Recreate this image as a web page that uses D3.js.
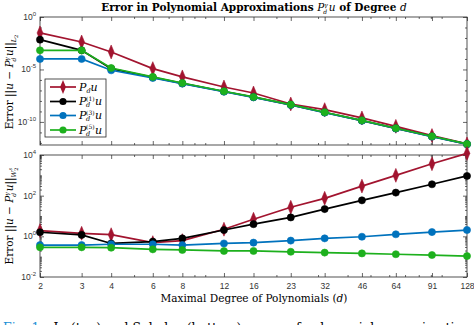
<!DOCTYPE html>
<html><head><meta charset="utf-8">
<script src="https://cdn.jsdelivr.net/npm/d3@7"></script>
<style>body{margin:0;background:#fff;overflow:hidden}svg{display:block}</style>
</head><body>
<svg id="c" width="474" height="325"></svg>
<script>
const degrees = [2,3,4,6,8,12,16,23,32,46,64,91,128];
// log10 of L2 errors (top panel)
const topP0 = [-1.52,-2.38,-3.33,-4.92,-5.71,-6.67,-7.24,-8.29,-8.83,-9.62,-10.42,-11.3,-12.1];
const topP1 = [-2.16,-3.18,-4.92,-5.75,-6.33,-7.1,-7.64,-8.37,-9.1,-9.87,-10.62,-11.39,-12.12];
const topP3 = [-4.0,-4.0,-5.08,-5.81,-6.35,-7.12,-7.66,-8.38,-9.11,-9.88,-10.63,-11.4,-12.12];
const topP5 = [-3.18,-3.18,-4.86,-5.71,-6.29,-7.08,-7.62,-8.35,-9.08,-9.85,-10.6,-11.37,-12.1];
// log10 of Sobolev errors (bottom panel)
const botP0 = [0.28,0.15,0.08,-0.31,-0.21,0.35,0.84,1.43,1.87,2.47,3.0,3.57,4.08];
const botP1 = [0.2,0.07,-0.35,-0.26,-0.1,0.31,0.6,0.93,1.34,1.77,2.15,2.56,2.97];
const botP3 = [-0.43,-0.43,-0.39,-0.39,-0.43,-0.35,-0.31,-0.21,-0.1,-0.02,0.1,0.21,0.31];
const botP5 = [-0.54,-0.54,-0.56,-0.64,-0.67,-0.72,-0.72,-0.76,-0.8,-0.84,-0.88,-0.92,-0.97];
const topTicks = [0,-5,-10];
const botTicks = [4,2,0,-2];

const colors = {p0:"#A2142F", p1:"#000000", p3:"#0072BD", p5:"#1DB01D"};
const svg = d3.select("#c");
const L = 40, R = 467;
const x = d3.scaleLog().domain([2,128]).range([L,R]);
const yT = d3.scaleLog().domain([Math.pow(10,-12.2),1]).range([145,17]);
const yB = d3.scaleLog().domain([1e-2,1e4]).range([277,155]);
const axisCol = "#262626";
const tickFont = "Liberation Sans, Arial, sans-serif";
const serif = "DejaVu Serif, Liberation Serif, serif";

function panel(y, yTicksExp, minorY, showXLabels){
  const [y0,y1] = y.range();
  const g = svg.append("g");
  g.append("rect").attr("x",L).attr("y",y1).attr("width",R-L).attr("height",y0-y1)
    .attr("fill","none").attr("stroke",axisCol).attr("stroke-width",0.8);
  const xb = d3.axisBottom(x).tickValues(degrees).tickSize(-4).tickPadding(6)
    .tickFormat(showXLabels ? d3.format("d") : "");
  const gx = g.append("g").attr("transform",`translate(0,${y0})`).call(xb);
  const xt = d3.axisTop(x).tickValues(degrees).tickSize(-4).tickFormat("");
  const gxt = g.append("g").attr("transform",`translate(0,${y1})`).call(xt);
  const minorX = [5,7,9,10,20,30,40,50,60,70,80,90,100].filter(v=>!degrees.includes(v));
  const gxm = g.append("g").attr("transform",`translate(0,${y0})`).call(d3.axisBottom(x).tickValues(minorX).tickSize(-2).tickFormat(""));
  const gxm2 = g.append("g").attr("transform",`translate(0,${y1})`).call(d3.axisTop(x).tickValues(minorX).tickSize(-2).tickFormat(""));
  const yl = d3.axisLeft(y).tickValues(yTicksExp.map(e=>Math.pow(10,e))).tickSize(-4).tickFormat("");
  const gy = g.append("g").attr("transform",`translate(${L},0)`).call(yl);
  const yr = d3.axisRight(y).tickValues(yTicksExp.map(e=>Math.pow(10,e))).tickSize(-4).tickFormat("");
  const gyr = g.append("g").attr("transform",`translate(${R},0)`).call(yr);
  const gym = g.append("g").attr("transform",`translate(${L},0)`).call(d3.axisLeft(y).tickValues(minorY).tickSize(-2).tickFormat(""));
  const gymr = g.append("g").attr("transform",`translate(${R},0)`).call(d3.axisRight(y).tickValues(minorY).tickSize(-2).tickFormat(""));
  [gx,gxt,gxm,gxm2,gy,gyr,gym,gymr].forEach(a=>{
    a.select(".domain").remove();
    a.selectAll("line").attr("stroke",axisCol).attr("stroke-width",0.7);
  });
  gx.selectAll("text").attr("font-family",tickFont).attr("font-size",8.5).attr("fill","#333");
  yTicksExp.forEach(e=>{
    const t = g.append("text").attr("x",L-4).attr("y",y(Math.pow(10,e))+3)
      .attr("text-anchor","end").attr("font-family",tickFont).attr("font-size",8.5).attr("fill","#333");
    t.append("tspan").text("10");
    t.append("tspan").attr("dy",-4).attr("font-size",6).text(e);
  });
  return g;
}

const topMinor = d3.range(-12,1).filter(e=>!topTicks.includes(e)).map(e=>Math.pow(10,e));
const botMinor = [];
for(let e=-2;e<4;e++){ for(let k=2;k<=9;k++) botMinor.push(k*Math.pow(10,e)); }
for(let e=-1;e<4;e+=2) botMinor.push(Math.pow(10,e));

const gT = panel(yT, topTicks, topMinor, false);
const gB = panel(yB, botTicks, botMinor, true);

function series(g, y, vals, col, diamond){
  const pts = degrees.map((d,i)=>[x(d), y(Math.pow(10,vals[i]))]);
  g.append("path").attr("d",d3.line()(pts)).attr("fill","none").attr("stroke",col).attr("stroke-width",1.7);
  const sym = d3.symbol().type(diamond?d3.symbolDiamond:d3.symbolCircle).size(diamond?46:40);
  g.selectAll(null).data(pts).enter().append("path")
    .attr("d",sym).attr("transform",d=>`translate(${d[0]},${d[1]})${diamond?" scale(0.8,1.1)":""}`)
    .attr("fill",col).attr("stroke",col).attr("stroke-width",0.6);
}
series(gT, yT, topP0, colors.p0, true);
series(gT, yT, topP1, colors.p1, false);
series(gT, yT, topP3, colors.p3, false);
series(gT, yT, topP5, colors.p5, false);
series(gB, yB, botP0, colors.p0, true);
series(gB, yB, botP1, colors.p1, false);
series(gB, yB, botP3, colors.p3, false);
series(gB, yB, botP5, colors.p5, false);

// legend
const lg = svg.append("g");
lg.append("rect").attr("x",45).attr("y",79).attr("width",61).attr("height",58)
  .attr("fill","#fff").attr("stroke",axisCol).attr("stroke-width",0.8);
const legendItems = [["p0",null,true],["p1","(1)",false],["p3","(3)",false],["p5","(5)",false]];
const legY = [87,101.5,115.5,130];
legendItems.forEach((it,i)=>{
  const yy = legY[i], col = colors[it[0]];
  lg.append("line").attr("x1",50).attr("x2",76).attr("y1",yy).attr("y2",yy).attr("stroke",col).attr("stroke-width",1.7);
  const sym = d3.symbol().type(it[2]?d3.symbolDiamond:d3.symbolCircle).size(it[2]?46:40);
  lg.append("path").attr("d",sym).attr("transform",`translate(63,${yy})${it[2]?" scale(0.8,1.1)":""}`).attr("fill",col);
  const t = lg.append("text").attr("x",79).attr("y",yy+3.5).attr("font-family",serif).attr("font-size",11).attr("font-style","italic");
  t.append("tspan").text("P");
  if(it[1]){
    t.append("tspan").attr("dy",2).attr("dx",-0.5).attr("font-size",6.5).text("d");
    t.append("tspan").attr("dy",-6.5).attr("dx",-4).attr("font-size",6).attr("font-style","normal").text(it[1]);
    t.append("tspan").attr("dy",4.5).attr("dx",0.5).text("u");
  } else {
    t.append("tspan").attr("dy",2).attr("font-size",6.5).text("d");
    t.append("tspan").attr("dy",-2).text("u");
  }
});

// title
const tt = svg.append("text").attr("x",254).attr("y",11).attr("text-anchor","middle")
  .attr("font-family",serif).attr("font-size",10.5).attr("font-weight","bold");
tt.append("tspan").text("Error in Polynomial Approximations ");
tt.append("tspan").attr("font-style","italic").attr("font-weight","normal").text("P");
tt.append("tspan").attr("font-style","italic").attr("font-weight","normal").attr("font-size",6).attr("dy",3).attr("dx",-1).text("d");
tt.append("tspan").attr("font-style","italic").attr("font-weight","normal").attr("font-size",6).attr("dy",-7).attr("dx",-3).text("γ");
tt.append("tspan").attr("font-style","italic").attr("font-weight","normal").attr("dy",4).attr("dx",1).text("u");
tt.append("tspan").text(" of Degree ");
tt.append("tspan").attr("font-style","italic").attr("font-weight","normal").text("d");

// y labels
function ylabel(cy, sub, sup){
  const t = svg.append("text").attr("transform",`translate(13,${cy}) rotate(-90)`).attr("text-anchor","middle")
    .attr("font-family",serif).attr("font-size",10.5);
  t.append("tspan").text("Error ||");
  t.append("tspan").attr("font-style","italic").text("u");
  t.append("tspan").text(" − ");
  t.append("tspan").attr("font-style","italic").text("P");
  t.append("tspan").attr("font-style","italic").attr("font-size",6).attr("dy",3).attr("dx",-1).text("d");
  t.append("tspan").attr("font-style","italic").attr("font-size",6).attr("dy",-7).attr("dx",-3).text("γ");
  t.append("tspan").attr("font-style","italic").attr("dy",4).attr("dx",1).text("u");
  t.append("tspan").text("||");
  t.append("tspan").attr("font-style","italic").attr("font-size",6.5).attr("dy",3).text(sub);
  t.append("tspan").attr("font-size",5).attr("dy",1.5).text("2");
  if(sup){
    t.append("tspan").attr("font-size",5).attr("dy",-6).attr("dx",-3).attr("font-style","italic").text(sup);
  }
}
ylabel(82, "L", null);
ylabel(216, "W", "s");

// x label
const xl = svg.append("text").attr("x",254).attr("y",302).attr("text-anchor","middle")
  .attr("font-family",serif).attr("font-size",10.5);
xl.append("tspan").text("Maximal Degree of Polynomials (");
xl.append("tspan").attr("font-style","italic").text("d");
xl.append("tspan").text(")");

// caption (cut off at the bottom edge, as in the reference)
const cap = svg.append("text").attr("x",3).attr("y",332).attr("font-family",serif).attr("font-size",12.5);
cap.append("tspan").attr("fill","#1a8fd6").text("Fig. 1.");
cap.append("tspan").attr("dx",10).text("L₂ (top) and Sobolev (bottom) errors of polynomial approximations of degree d");
</script>
</body></html>
